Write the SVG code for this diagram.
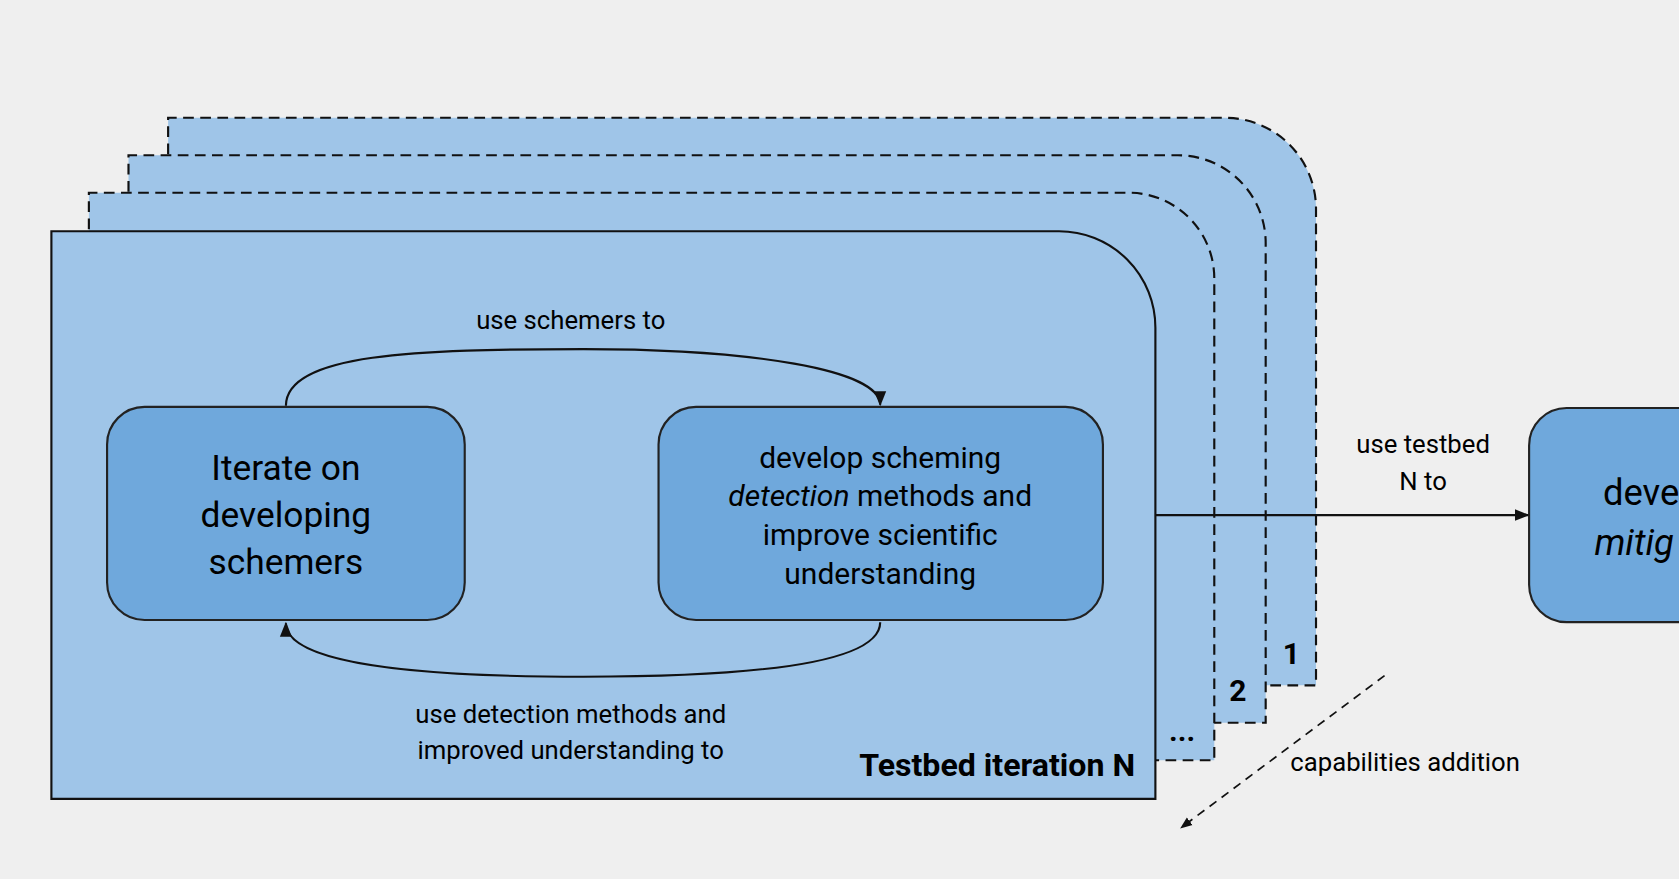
<svg xmlns="http://www.w3.org/2000/svg" width="1679" height="879" viewBox="0 0 1679 879">
<style>
.card{fill:#9fc5e8;stroke:#111;stroke-width:2}
.dash{stroke-dasharray:10 6}
.node{fill:#6fa8dc;stroke:#222;stroke-width:2}
text{font-family:Roboto,"Liberation Sans",sans-serif;fill:#000;text-anchor:middle}
.c{fill:none;stroke:#111;stroke-width:2}
</style>
<defs>
<marker id="ah" viewBox="0 0 10 10" refX="9" refY="5" markerWidth="7" markerHeight="7" orient="auto"><path d="M0,1 L10,5 L0,9 z" fill="#111"/></marker>
</defs>
<rect width="1679" height="879" fill="#efefef"/>
<g transform="scale(1.0708)">
<g id="card1"><path class="card dash" d="M157,640 V110 H1144 A85,85 0 0 1 1229,195 V640 Z"/><text x="1206" y="620" font-size="28" font-weight="bold">1</text></g>
<g id="card2"><path class="card dash" d="M120,675 V145 H1100 A82,82 0 0 1 1182,227 V675 Z"/><text x="1156" y="655" font-size="28" font-weight="bold">2</text></g>
<g id="card3"><path class="card dash" d="M83,710 V180 H1054 A80,80 0 0 1 1134,260 V710 Z"/><text x="1104" y="692" font-size="28" font-weight="bold">...</text></g>
<g id="main"><path class="card" d="M48,746 V216 H989 A90,90 0 0 1 1079,306 V746 Z"/><text x="1060" y="725" font-size="30" font-weight="bold" style="text-anchor:end">Testbed iteration N</text></g>
<g id="iterate"><rect class="node" x="100" y="380" width="334" height="199" rx="35"/>
<text x="267" y="448" font-size="33">Iterate on</text><text x="267" y="492" font-size="33">developing</text><text x="267" y="536" font-size="33">schemers</text></g>
<g id="detect"><rect class="node" x="615" y="380" width="415" height="199" rx="35"/>
<text x="822" y="437" font-size="28">develop scheming</text>
<text x="822" y="473" font-size="28"><tspan font-style="italic">detection</tspan> methods and</text>
<text x="822" y="509" font-size="28">improve scientific</text>
<text x="822" y="545" font-size="28">understanding</text></g>
<g id="mitig"><rect class="node" x="1428" y="381" width="300" height="200" rx="35"/>
<text x="1497" y="472" font-size="34" style="text-anchor:start">deve</text>
<text x="1489" y="518" font-size="34" font-style="italic" style="text-anchor:start">mitig</text></g>
<g id="connectors">
<path class="c" marker-end="url(#ah)" d="M267,379 C267,330 390,326 545,326 C700,326 822,345 822,378"/>
<path class="c" marker-end="url(#ah)" d="M822,581 C822,620 700,632 545,632 C390,632 267,620 267,582"/>
<path class="c" marker-end="url(#ah)" d="M1079,481 H1427"/>
<path class="c" style="stroke-width:1.6;stroke-dasharray:8 6" marker-end="url(#ah)" d="M1293,631 L1103,773"/>
<text x="533" y="307" font-size="24">use schemers to</text>
<text x="533" y="675" font-size="24">use detection methods and</text>
<text x="533" y="709" font-size="24">improved understanding to</text>
<text x="1329" y="423" font-size="24">use testbed</text>
<text x="1329" y="458" font-size="24">N to</text>
<text x="1205" y="720" font-size="24" style="text-anchor:start">capabilities addition</text>
</g>
</g>
</svg>
